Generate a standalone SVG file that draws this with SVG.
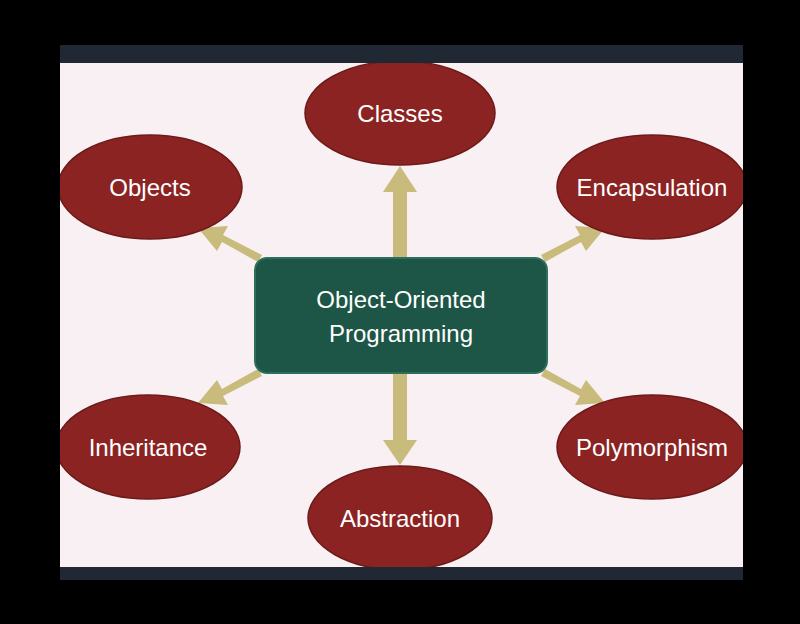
<svg xmlns="http://www.w3.org/2000/svg" width="800" height="624" viewBox="0 0 800 624">
<style>
.n{fill:#8b2323;stroke:#6e1a1a;stroke-width:1.5}
.t{font-family:"Liberation Sans",Arial,sans-serif;font-size:24px;fill:#fff;text-anchor:middle}
.a{fill:#c9bb7c}
</style>
<defs><clipPath id="c"><rect x="60" y="63" width="683" height="504"/></clipPath></defs>
<rect width="800" height="624" fill="#000"/>
<rect x="60" y="45" width="683" height="535" fill="#1f2833"/>
<rect x="60" y="63" width="683" height="504" fill="#f8f0f2"/>
<g id="connectors" class="a">
<polygon points="393,258 393,192 383,192 400,166 417,192 407,192 407,258"/>
<polygon points="393,373 393,440 383,440 400,465 417,440 407,440 407,373"/>
<polygon points="258,262 222,242 217,251 198,228 228,226 223,235 262,255"/>
<polygon points="545,262 581,242 586,251 605,228 575,226 580,235 541,255"/>
<polygon points="258,369 222,389 217,380 198,403 228,405 223,396 262,376"/>
<polygon points="545,369 581,389 586,380 605,403 575,405 580,396 541,376"/>
</g>
<g clip-path="url(#c)">
<g id="classes"><ellipse class="n" cx="400" cy="113" rx="95" ry="52"/><text class="t" x="400" y="122">Classes</text></g>
<g id="objects"><ellipse class="n" cx="150" cy="187" rx="92" ry="52"/><text class="t" x="150" y="196">Objects</text></g>
<g id="encapsulation"><ellipse class="n" cx="652" cy="187" rx="95" ry="52"/><text class="t" x="652" y="196">Encapsulation</text></g>
<g id="inheritance"><ellipse class="n" cx="148" cy="447" rx="92" ry="52"/><text class="t" x="148" y="456">Inheritance</text></g>
<g id="polymorphism"><ellipse class="n" cx="652" cy="447" rx="95" ry="52"/><text class="t" x="652" y="456">Polymorphism</text></g>
<g id="abstraction"><ellipse class="n" cx="400" cy="518" rx="92" ry="52"/><text class="t" x="400" y="527">Abstraction</text></g>
</g>
<g id="oop"><rect x="255" y="258" width="292" height="115" rx="12" fill="#1d5646" stroke="#2f6e5c" stroke-width="2"/>
<text class="t" x="401" y="308">Object-Oriented</text><text class="t" x="401" y="342">Programming</text></g>
</svg>
